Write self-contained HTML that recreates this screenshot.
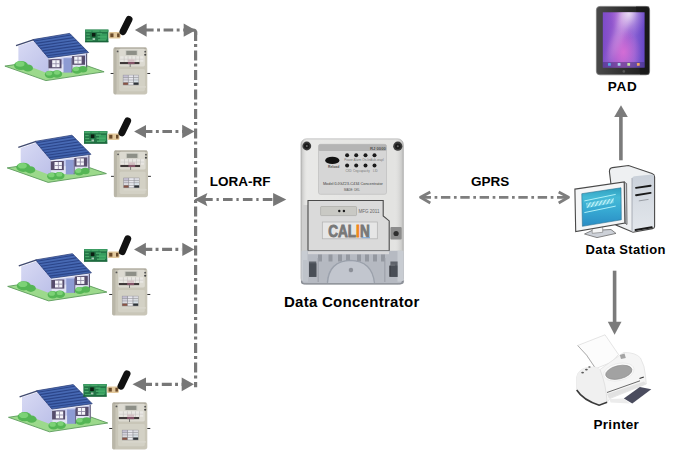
<!DOCTYPE html>
<html><head><meta charset="utf-8">
<style>
html,body{margin:0;padding:0;background:#fff;}
body{width:680px;height:460px;overflow:hidden;position:relative;font-family:"Liberation Sans",sans-serif;}
svg{position:absolute;left:0;top:0;}
.lbl{position:absolute;font-weight:bold;color:#000;white-space:nowrap;line-height:1;}
</style></head><body>
<svg width="680" height="460" viewBox="0 0 680 460">
<defs>
<linearGradient id="sideW" x1="0" y1="0" x2="1" y2="1">
<stop offset="0" stop-color="#d8daf4"/><stop offset="1" stop-color="#bcc0e8"/></linearGradient>
<linearGradient id="roofG" x1="0" y1="0" x2="0" y2="1">
<stop offset="0" stop-color="#4a6cb6"/><stop offset="1" stop-color="#4062ad"/></linearGradient>
<linearGradient id="concShade" x1="0" y1="0" x2="1" y2="0">
<stop offset="0" stop-color="#9a9a9a" stop-opacity="0.5"/><stop offset="0.06" stop-color="#fff" stop-opacity="0.2"/><stop offset="0.9" stop-color="#fff" stop-opacity="0"/><stop offset="1" stop-color="#888" stop-opacity="0.4"/></linearGradient>
<linearGradient id="towerFront" x1="0" y1="0" x2="0" y2="1">
<stop offset="0" stop-color="#c9d0d9"/><stop offset="0.5" stop-color="#d8dde4"/><stop offset="1" stop-color="#e2e6eb"/></linearGradient>
<linearGradient id="screenG" x1="0" y1="0" x2="0" y2="1">
<stop offset="0" stop-color="#2f9fbf"/><stop offset="0.25" stop-color="#45bad6"/><stop offset="0.6" stop-color="#36a8d2"/><stop offset="1" stop-color="#2a8cc4"/></linearGradient>
<pattern id="stripeP" width="3" height="3" patternUnits="userSpaceOnUse" patternTransform="rotate(-60)">
<rect width="3" height="1.5" fill="#c8f2f8"/><rect y="1.5" width="3" height="1.5" fill="#5cc8e0"/></pattern>
<linearGradient id="padG" x1="0" y1="0" x2="1" y2="0">
<stop offset="0" stop-color="#7c4cc8"/><stop offset="0.45" stop-color="#a45ed2"/><stop offset="0.75" stop-color="#8a62d4"/><stop offset="1" stop-color="#6446c6"/></linearGradient>
<filter id="soft" x="-50%" y="-50%" width="200%" height="200%"><feGaussianBlur stdDeviation="2.5"/></filter>
<linearGradient id="streakG" x1="0" y1="0" x2="0" y2="1">
<stop offset="0" stop-color="#f4e8f8" stop-opacity="0.55"/><stop offset="0.5" stop-color="#f0e0f8" stop-opacity="0.25"/><stop offset="1" stop-color="#f0e0f8" stop-opacity="0.08"/></linearGradient>
<radialGradient id="padPink" cx="0.5" cy="0.72" r="0.42">
<stop offset="0" stop-color="#e472d6" stop-opacity="0.75"/><stop offset="1" stop-color="#e070d4" stop-opacity="0"/></radialGradient>
<radialGradient id="padGlow" cx="0.62" cy="0.02" r="0.45">
<stop offset="0" stop-color="#f4ecf8" stop-opacity="0.75"/><stop offset="0.5" stop-color="#e8d0f0" stop-opacity="0.3"/><stop offset="1" stop-color="#c080e0" stop-opacity="0"/></radialGradient>
<linearGradient id="bezelG" x1="0" y1="0" x2="1" y2="0">
<stop offset="0" stop-color="#4a4a4a"/><stop offset="0.5" stop-color="#303030"/><stop offset="1" stop-color="#1c1c1c"/></linearGradient>
<g id="house">
<polygon points="4.9,66.1 45.9,80.6 104.1,71.8 63.1,57.3" fill="#9cd98c" stroke="#5c9c5c" stroke-width="0.9"/>
<polygon points="18.4,46.1 33.9,41 48.9,57.5 48.9,73.7 18.4,62.3" fill="url(#sideW)"/>
<polygon points="48.9,57.5 87,52.5 87,69 48.9,74" fill="#c9cdef"/>
<polygon points="48.9,66 87,61.5 87,69 48.9,74" fill="#e2e4f4"/>
<rect x="48.5" y="59.2" width="13" height="9.1" fill="#564c6c"/>
<rect x="52.2" y="60.2" width="7.4" height="7" fill="#f4f4fa"/>
<rect x="55.6" y="60.2" width="0.8" height="7" fill="#8a84a0"/>
<rect x="52.2" y="63.4" width="7.4" height="0.8" fill="#8a84a0"/>
<rect x="63.5" y="58.2" width="7.8" height="14.4" fill="#8d9bd3"/>
<rect x="72" y="55.6" width="13" height="9.2" fill="#564c6c"/>
<rect x="74.2" y="56.6" width="7.4" height="7" fill="#f4f4fa"/>
<rect x="77.6" y="56.6" width="0.8" height="7" fill="#8a84a0"/>
<rect x="74.2" y="59.8" width="7.4" height="0.8" fill="#8a84a0"/>
<polygon points="48.6,57.6 88,52.3 88,54 48.6,59.6" fill="#eceef8"/>
<line x1="86.6" y1="53.5" x2="86.6" y2="68.5" stroke="#5a5470" stroke-width="1.1"/>
<rect x="71.3" y="58" width="1.2" height="14.5" fill="#6a6a92"/>
<polygon points="32.9,39.6 69.7,33.4 88.6,52.5 48.4,57.9" fill="url(#roofG)" stroke="#2c3f78" stroke-width="0.8"/>
<g stroke="#2b4589" stroke-width="1.1"><line x1="34.1" y1="41.0" x2="71.1" y2="35.0"/><line x1="36.1" y1="43.4" x2="73.6" y2="37.6"/><line x1="38.2" y1="45.9" x2="76.2" y2="40.2"/><line x1="40.3" y1="48.4" x2="78.7" y2="42.8"/><line x1="42.4" y1="50.9" x2="81.3" y2="45.4"/><line x1="44.5" y1="53.4" x2="83.8" y2="48.0"/><line x1="46.6" y1="55.8" x2="86.4" y2="50.6"/></g>
<line x1="16" y1="45.6" x2="33.9" y2="39.6" stroke="#404a70" stroke-width="1.3"/>
<g fill="#55b655">
<ellipse cx="21" cy="65.5" rx="7" ry="4.6"/>
<ellipse cx="28" cy="68" rx="5" ry="3.6"/>
<ellipse cx="50" cy="74.5" rx="5.2" ry="3.8"/>
<ellipse cx="57" cy="74" rx="5.2" ry="3.8"/>
<ellipse cx="77" cy="70.3" rx="5" ry="3.5"/>
<ellipse cx="83" cy="69.2" rx="4.3" ry="3.2"/>
</g>
<g fill="#7cd276">
<ellipse cx="20" cy="64" rx="4.5" ry="2.8"/>
<ellipse cx="49" cy="73.2" rx="3.2" ry="2.3"/>
<ellipse cx="57" cy="72.6" rx="3" ry="2.2"/>
<ellipse cx="76" cy="69" rx="3" ry="2.2"/>
</g>
</g>
<g id="pcb">
<rect x="0" y="0" width="23.3" height="12.6" fill="#237546"/>
<rect x="0" y="0" width="23.3" height="2.2" fill="#3a9a62"/>
<g fill="#4aa86a">
<rect x="1" y="1" width="5" height="1.2"/><rect x="8" y="0.8" width="6" height="1.3"/><rect x="16" y="1" width="6" height="1.2"/>
<rect x="1.2" y="4" width="3.5" height="1.2"/><rect x="1.2" y="7" width="4" height="1.2"/><rect x="1.5" y="10" width="6" height="1.2"/>
<rect x="12" y="3.5" width="5" height="1.4"/><rect x="12.5" y="6.5" width="9" height="1.5"/><rect x="13" y="9.5" width="8" height="1.5"/>
</g>
<rect x="15" y="4" width="7" height="6" fill="#3fae68" opacity="0.7"/>
<rect x="6.8" y="3.4" width="3.6" height="3.6" fill="#0c1e12"/>
<rect x="7.5" y="8.5" width="2.5" height="2" fill="#c8e0d0" opacity="0.8"/>
<rect x="0" y="11.6" width="23.3" height="1" fill="#186038"/>
<rect x="23.5" y="2.5" width="12" height="6.5" rx="1.5" fill="#e2c89c"/>
<rect x="25.2" y="3.8" width="3.2" height="3.8" fill="#6a4a2a"/>
<rect x="32" y="3.8" width="2.5" height="3.8" fill="#6a4a2a"/>
</g>
<g id="meter">
<rect x="0" y="0" width="32.8" height="47.2" rx="2.5" fill="#c9c6b8"/>
<rect x="0" y="0" width="3" height="47.2" rx="1.5" fill="#b9b6a8"/>
<rect x="1" y="0" width="30.8" height="1.3" fill="#a9a599"/>
<rect x="5.5" y="1.3" width="25" height="17.8" rx="1.5" fill="#dcdad1"/>
<rect x="11.5" y="2.7" width="12.2" height="5.4" fill="#cfcfc7"/>
<rect x="12.4" y="3.3" width="10.2" height="4.2" fill="#8d8f87"/>
<rect x="6.5" y="8.8" width="22.5" height="5.6" fill="#e9e7e3"/>
<g fill="#c4c2bf"><rect x="10" y="8.8" width="0.6" height="5.6"/><rect x="13.8" y="8.8" width="0.6" height="5.6"/><rect x="17.6" y="8.8" width="0.6" height="5.6"/><rect x="21.4" y="8.8" width="0.6" height="5.6"/><rect x="25.2" y="8.8" width="0.6" height="5.6"/><rect x="6.5" y="11.4" width="22.5" height="0.5"/></g>
<rect x="14" y="12" width="6.5" height="2.4" fill="#d4c0c4"/>
<rect x="6.2" y="14.6" width="19" height="2.1" fill="#3e3838"/>
<rect x="14" y="14.6" width="6.5" height="2.1" fill="#86566a"/>
<rect x="15.8" y="16.7" width="0.7" height="2.8" fill="#555"/>
<circle cx="4" cy="3.9" r="0.9" fill="#555"/>
<circle cx="30.8" cy="4.2" r="0.9" fill="#555"/>
<circle cx="30.8" cy="7.3" r="1" fill="#444"/>
<rect x="5.5" y="21.5" width="25" height="22.5" rx="1.5" fill="#d3d1c5"/>
<rect x="9.1" y="27.5" width="15.4" height="10.4" fill="#8c8c92"/>
<rect x="9.5" y="27.9" width="4.5" height="2" fill="#c4bfd2"/>
<rect x="14.6" y="27.9" width="4.5" height="2" fill="#e6e6ec"/>
<rect x="19.7" y="27.9" width="4.5" height="2" fill="#dcdce2"/>
<rect x="9.5" y="30.4" width="4.5" height="2" fill="#d4d2dc"/>
<rect x="14.6" y="30.4" width="4.5" height="2" fill="#e8e8ee"/>
<rect x="19.7" y="30.4" width="4.5" height="2" fill="#dadee2"/>
<rect x="9.5" y="32.9" width="4.5" height="2" fill="#dcdce0"/>
<rect x="14.6" y="32.9" width="4.5" height="2" fill="#e4e6ea"/>
<rect x="19.7" y="32.9" width="4.5" height="2" fill="#d8e2e8"/>
<rect x="9.5" y="35.4" width="4.5" height="2" fill="#8a5444"/>
<rect x="14.6" y="35.4" width="4.5" height="2" fill="#ececee"/>
<rect x="19.7" y="35.4" width="4.5" height="2" fill="#2e3438"/>
<rect x="9.4" y="38.8" width="22" height="1.6" fill="#d8d6cc"/>
<rect x="-2.8" y="25.6" width="2.8" height="1" fill="#333"/>
<rect x="32.8" y="25.6" width="2.8" height="1" fill="#333"/>
</g>
</defs>

<!-- houses -->
<use href="#house"/>
<use href="#house" transform="translate(2.3,101.8)"/>
<use href="#house" transform="translate(2.8,220.3)"/>
<use href="#house" transform="translate(3.6,351.2)"/>

<!-- pcbs -->
<use href="#pcb" transform="translate(85.1,29.6)"/>
<use href="#pcb" transform="translate(84,131)"/>
<use href="#pcb" transform="translate(84,249)"/>
<use href="#pcb" transform="translate(83.4,384)"/>
<!-- antennas -->
<g stroke="#111" stroke-width="7" stroke-linecap="round">
<line x1="123" y1="31.5" x2="129" y2="19.5"/>
<line x1="121.9" y1="132.8" x2="127.6" y2="121"/>
<line x1="122.3" y1="251.6" x2="127.7" y2="238.8"/>
<line x1="121" y1="386.2" x2="127" y2="373.8"/>
</g>
<!-- meters -->
<use href="#meter" transform="translate(113.5,47.5) scale(1.03,0.995)"/>
<use href="#meter" transform="translate(113.9,150.5) scale(1.04,0.99)"/>
<use href="#meter" transform="translate(112.2,268.5) scale(1.07,0.995)"/>
<use href="#meter" transform="translate(112.2,402.5) scale(1.07,0.995)"/>

<!-- LORA dash-dot lines -->
<g stroke="#777" stroke-width="3.2" fill="none">
<line x1="195.6" y1="31" x2="195.6" y2="387.3" stroke-dasharray="10 3 3 3.5"/>
<path d="M189,30 H193 Q195.6,30 195.6,32.6 V35" stroke-dasharray="none"/>
<line x1="144" y1="30" x2="184" y2="30" stroke-dasharray="9.6 3.5 2.9 3.6"/>
<line x1="142.8" y1="131.5" x2="183" y2="131.5" stroke-dasharray="9.6 3.5 2.9 3.6"/>
<line x1="142.3" y1="249.4" x2="182" y2="249.4" stroke-dasharray="10 3.3 2.9 3.6"/>
<line x1="142" y1="384.3" x2="182" y2="384.3" stroke-dasharray="10 3.3 2.9 3.6"/>
<line x1="203.1" y1="199.5" x2="274" y2="199.5" stroke-dasharray="9.6 3.8 2.3 4.2"/>
</g>
<g fill="#777">
<polygon points="134.9,30 146.6,23.5 146.6,36.8"/>
<polygon points="183.7,23.5 195.6,30.2 183.7,36.8"/>
<polygon points="134.1,131.5 146,125.1 146,138.1"/>
<polygon points="182.2,124.8 194.6,131.5 182.2,138.3"/>
<polygon points="134,249.4 145.9,242.8 145.9,256"/>
<polygon points="182.3,242.8 194.3,249.4 182.3,256"/>
<polygon points="132.5,384.3 146,377.4 146,391.3"/>
<polygon points="181.7,377.4 193.9,384.3 181.7,391.3"/>
<polygon points="194.4,199.5 207.4,193.1 205,199.5 207.4,206.3"/>
<polygon points="273.1,193.1 286.3,199.5 273.1,206.3"/>
</g>

<!-- concentrator -->
<g id="conc">
<rect x="301" y="138.9" width="102.3" height="144.8" rx="5.5" fill="#e3e3e1" stroke="#a8a8a8" stroke-width="0.7"/>
<rect x="301" y="138.9" width="102.3" height="144.8" rx="5.5" fill="url(#concShade)"/>
<circle cx="306.8" cy="146" r="4.4" fill="#3a3a3a"/>
<circle cx="306.8" cy="146" r="2.8" fill="#1a1a1a"/>
<circle cx="306.8" cy="146" r="1" fill="#666"/>
<circle cx="397.8" cy="146.2" r="4.6" fill="#3a3a3a"/>
<circle cx="397.8" cy="146.2" r="2.8" fill="#1a1a1a"/>
<circle cx="397.8" cy="146.2" r="1" fill="#666"/>
<rect x="318.5" y="144.3" width="68" height="50" rx="2" fill="#d6d6d6" stroke="#c2c2c2" stroke-width="0.8"/>
<rect x="318.5" y="144.3" width="68" height="6.8" rx="1.5" fill="#b4b4b4"/>
<text x="370" y="149.6" font-family="Liberation Sans" font-weight="bold" font-size="4.2" fill="#555">RJ 0000</text>
<ellipse cx="332.3" cy="160.4" rx="7.1" ry="3.7" fill="#111"/>
<text x="328" y="168.3" font-family="Liberation Sans" font-weight="bold" font-size="3.4" fill="#555">Reload</text>
<g fill="#1a1a1a">
<circle cx="347.1" cy="155.3" r="2"/><circle cx="356.2" cy="155.3" r="2"/><circle cx="365.5" cy="155.3" r="2"/><circle cx="374.5" cy="155.3" r="2"/>
<circle cx="347.1" cy="165.4" r="2"/><circle cx="356.2" cy="165.4" r="2"/><circle cx="365.5" cy="165.4" r="2"/><circle cx="374.5" cy="165.4" r="2"/>
</g>
<g font-family="Liberation Sans" font-size="3" fill="#777">
<text x="344.3" y="161.3">Power</text><text x="353.5" y="161.3">Alarm</text><text x="362.3" y="161.3">On-line</text><text x="370.6" y="161.3">Sub-orapl</text>
<text x="345.4" y="171.5">CXD</text><text x="353" y="171.5">Cng</text><text x="358.7" y="171.5">capacity</text><text x="373" y="171.5">LID</text>
</g>
<text x="322.9" y="184.7" font-family="Liberation Sans" font-size="4.4" fill="#444" textLength="60" lengthAdjust="spacingAndGlyphs">Model:DJGZ23-C434 Concentrator</text>
<text x="344" y="191.3" font-family="Liberation Sans" font-size="3.8" fill="#555" textLength="16" lengthAdjust="spacingAndGlyphs">MADE: DKL</text>
<!-- terminal cover upper -->
<rect x="302" y="205" width="6.5" height="46" fill="#cfcfcf"/>
<path d="M308,200.5 H383.2 V216 L389.2,220.9 V250.7 H308 Z" fill="#dadada" stroke="#4a4a4a" stroke-width="1.1"/>
<rect x="320.6" y="206.5" width="35.9" height="9.1" rx="0.8" fill="#c9c9c4" stroke="#a5a5a0" stroke-width="0.6"/>
<circle cx="339.3" cy="211" r="1.2" fill="#1e1e1e"/><circle cx="343.9" cy="211" r="1.2" fill="#1e1e1e"/>
<text x="358.5" y="213.4" font-family="Liberation Sans" font-size="5.2" fill="#666" textLength="21" lengthAdjust="spacingAndGlyphs">MFG 2011</text>
<rect x="322.3" y="222" width="55" height="16.8" fill="#e6e6e6" stroke="#b0b0b0" stroke-width="0.7"/>
<text x="328.2" y="236.8" font-family="Liberation Sans" font-weight="bold" font-size="17" fill="#787878" stroke="#787878" stroke-width="0.9" textLength="41.5" lengthAdjust="spacingAndGlyphs">CAL<tspan fill="#f0861e" stroke="#f0861e">I</tspan>N</text>
<rect x="362" y="237" width="8" height="1.2" fill="#6aa0d8" opacity="0.7"/>
<rect x="390.4" y="227" width="11.3" height="12.6" rx="1" fill="#8c8c8c"/>
<circle cx="396.1" cy="233.5" r="2.6" fill="#2e2e2e"/>
<!-- transparent bottom -->
<rect x="301.5" y="250.7" width="102" height="33" rx="3" fill="#b6bac2"/>
<rect x="301.5" y="250.7" width="6" height="31" fill="#c8ccd2"/>
<rect x="397.5" y="250.7" width="6" height="31" fill="#c8ccd2"/>
<rect x="308" y="251.4" width="81" height="2.8" fill="#d8d8da"/>
<g fill="#7e828a" opacity="0.6">
<rect x="318" y="254.5" width="4" height="7"/><rect x="328.5" y="254.5" width="4" height="7"/><rect x="338" y="254.5" width="4" height="7"/><rect x="346" y="254.5" width="4" height="7"/><rect x="357" y="254.5" width="4" height="7"/><rect x="365" y="254.5" width="4" height="7"/><rect x="373" y="254.5" width="4" height="7"/><rect x="381" y="254.5" width="4" height="7"/>
</g>
<rect x="309.1" y="263.3" width="7.2" height="13.5" fill="#34373c"/>
<rect x="389.3" y="265.6" width="8" height="11.2" fill="#34373c"/>
<rect x="391" y="263.8" width="4" height="2.2" fill="#f0f0f0"/>
<rect x="317.5" y="258" width="1.5" height="24" fill="#9a9ea6" opacity="0.7"/>
<rect x="384" y="258" width="1.5" height="24" fill="#9a9ea6" opacity="0.7"/>
<path d="M327.4,282.3 Q328.5,261.2 350.4,260.9 Q372.5,261.2 373.4,282.3" fill="#aeb3bd" stroke="#98a0b0" stroke-width="1.3"/>
<circle cx="350.4" cy="270.4" r="2.3" fill="#44484e"/>
<circle cx="350.4" cy="270.4" r="1" fill="#9a9ea6"/>
<path d="M301.5,280.5 Q301.5,283.7 304.5,283.7 H400.5 Q403.5,283.7 403.5,280.5" fill="none" stroke="#9a9ea4" stroke-width="1.3"/>
</g>
<rect x="309" y="261.5" width="7.3" height="15.5" fill="#4e525a" opacity="0.85"/>
<rect x="390.4" y="261.5" width="7.2" height="15.5" fill="#4e525a" opacity="0.85"/>
<rect x="303" y="260" width="4" height="22" fill="#b8bcc4" opacity="0.6"/>
<rect x="320" y="262" width="62" height="18" fill="#b4b8c0" opacity="0.5"/>
<path d="M327.5,283 Q329,261 350.5,260.4 Q372,261 374.5,283" fill="#c4c8d0" stroke="#9aa0aa" stroke-width="1.3" opacity="0.9"/>
<circle cx="351" cy="270" r="2.2" fill="#6a6e76" opacity="0.6"/>
<path d="M301.5,281 Q301.5,284 304.5,284 H399.5 Q402.5,284 402.5,281" fill="none" stroke="#8a8e96" stroke-width="1.2"/>
</g>

<!-- GPRS arrow -->
<g stroke="#7e7e7e" stroke-width="2.8" fill="none">
<line x1="421.6" y1="197.4" x2="568" y2="197.4" stroke-dasharray="9.4 3.6 2.7 3.65"/>
<polyline points="430.3,192 420.5,197.3 430.3,203" stroke-linejoin="round"/>
<polyline points="558.7,192 568.5,197.3 558.7,203" stroke-linejoin="round"/>
</g>

<!-- PC tower -->
<path d="M609.4,171.5 Q609.4,168 612.5,167.6 L628.5,165.5 L652,173.5 Q654.6,174.6 654.6,177 L654.6,226.5 Q654.6,228.3 652.5,228.6 L633,232.3 L616,225 Z" fill="#eef0f2" stroke="#4a4a4a" stroke-width="1.1"/>
<path d="M632,179 Q632,176.5 634.5,176.3 L652,174.6 Q654,174.5 654,177 L654,227 L632,231.5 Z" fill="url(#towerFront)"/>
<line x1="632" y1="178" x2="632" y2="231.8" stroke="#9aa0a8" stroke-width="0.8"/>
<g stroke="#1a1a1a" stroke-width="1.9" stroke-linecap="round">
<line x1="636" y1="187.9" x2="650.6" y2="185.7"/>
<line x1="636" y1="195.2" x2="650.6" y2="192.9"/>
<line x1="635.5" y1="230" x2="651.8" y2="227.3"/>
</g>
<line x1="638.8" y1="200.9" x2="648.5" y2="199.4" stroke="#8a8e96" stroke-width="0.8"/>
<!-- monitor -->
<polygon points="624.2,182 626.6,183.5 627,224.5 624.9,223.1" fill="#c9ccd2" stroke="#555" stroke-width="0.8"/>
<polygon points="584.5,234 592,230.5 611,229.5 616,233.4 597,237.6" fill="#cdd1d8" stroke="#6a6a6a" stroke-width="0.8"/>
<polygon points="592.2,227.5 602.7,226.2 602.7,232.3 592.2,233.3" fill="#f4f5f6" stroke="#777" stroke-width="0.6"/>
<polygon points="574.9,189.1 624.2,182 624.9,223.1 575.7,231.6" fill="#f5f6f7" stroke="#4a4a4a" stroke-width="1.1"/>
<polygon points="581.8,193.7 621,187.8 621.3,219.8 582.4,226.3" fill="url(#screenG)" stroke="#2a7090" stroke-width="0.6"/>
<g stroke="#aef0f8" stroke-width="1">
<line x1="584.4" y1="200.9" x2="615.7" y2="194.4"/>
<line x1="584.4" y1="212.6" x2="615.7" y2="206.1"/>
</g>
<polygon points="586.4,203 613.8,198.3 613.8,203 586.4,208" fill="url(#stripeP)"/>
<circle cx="602" cy="227.5" r="0.7" fill="#888"/>

<!-- iPad -->
<rect x="596.4" y="6.4" width="53.2" height="68.4" rx="3.5" fill="url(#bezelG)" stroke="#7a7a7a" stroke-width="0.8"/>
<polygon points="636,6.6 649.2,6.6 649.2,74.5 640,74.5" fill="#151515" opacity="0.6"/>
<rect x="602.8" y="12.3" width="41.8" height="55.3" fill="url(#padG)"/>
<rect x="602.8" y="12.3" width="41.8" height="55.3" fill="url(#padPink)"/>
<clipPath id="padClip"><rect x="602.8" y="12.3" width="41.8" height="55.3"/></clipPath>
<g clip-path="url(#padClip)"><polygon points="622,8 636,8 612,64 604,64" fill="url(#streakG)" filter="url(#soft)"/></g>
<rect x="602.8" y="12.3" width="41.8" height="55.3" fill="url(#padGlow)"/>
<rect x="602.8" y="62" width="41.8" height="5.6" fill="#3a2c6a" opacity="0.45"/>
<rect x="608" y="63" width="2.8" height="2.8" rx="0.6" fill="#58a8e8"/>
<rect x="617.7" y="63" width="2.8" height="2.8" rx="0.6" fill="#a8d0f0"/>
<rect x="627.3" y="63" width="2.8" height="2.8" rx="0.6" fill="#c8e0a0"/>
<rect x="636.9" y="63" width="2.8" height="2.8" rx="0.6" fill="#f0a860"/>
<circle cx="623.8" cy="71.4" r="1.3" fill="#555"/>

<!-- printer -->
<g id="printer">
<!-- paper -->
<path d="M577.7,345.5 L605,334.8 L618.5,354.5 L612,362 L596,368.5 Q587,354 577.7,345.5 Z" fill="#fcfcfc" stroke="#d4d4d4" stroke-width="0.6"/>
<path d="M577.7,345.5 Q587,354 594.5,367" fill="none" stroke="#a0a0a0" stroke-width="0.8"/>
<!-- body -->
<path d="M576.7,377 Q578,370 586,367.8 L594.5,367 L600,369.5 L623.7,352.4 Q636,352.5 640.5,358 Q645,366 645.5,376 L646.3,384 L610,398.5 L607.1,402.3 L599.2,405.2 Q583,400 576.7,390 Z" fill="#f5f5f5" stroke="#dadada" stroke-width="0.6"/>
<path d="M576.7,377 Q578,370 586,367.8 L594.5,367 L600,369.5 Q606,384 607.1,402.3 L599.2,405.2 Q583,400 576.7,390 Z" fill="#f0f0f0"/>
<path d="M600,369.5 Q606,384 607.1,402.3" fill="none" stroke="#dcdcdc" stroke-width="0.8"/>
<path d="M576.7,390 Q583,400 599.2,405.2 L607.1,402.3" fill="none" stroke="#3a3a3a" stroke-width="1.6"/>
<polygon points="619.8,355 624.5,353.6 625.8,358 621,359" fill="#a4a4a4"/>
<ellipse cx="618.8" cy="372" rx="15.5" ry="8.6" transform="rotate(-13 618.8 372)" fill="#fbfbfb" stroke="#e2e2e2" stroke-width="0.5"/>
<ellipse cx="618.8" cy="372.3" rx="13.4" ry="6.6" transform="rotate(-13 618.8 372.3)" fill="#a2a2a2" stroke="#8a8a8a" stroke-width="0.6"/>
<line x1="607" y1="392.5" x2="640" y2="380.8" stroke="#6a6a6a" stroke-width="1"/>
<polygon points="607,394 644,381.5 646.3,384 609,398.6" fill="#e2e2e2"/>
<line x1="639.5" y1="378.6" x2="643.8" y2="377.1" stroke="#333" stroke-width="1.1"/>
<polygon points="623.8,398.6 639.8,387 651.3,389.2 632.3,403.5" fill="#4a4c5e"/>
<polygon points="609.5,399 623.8,398.6 630,403.5 610.5,402.5" fill="#ececec"/>
<g fill="#5a5a5a">
<ellipse cx="582.6" cy="372.6" rx="1.4" ry="0.9"/>
<ellipse cx="586.4" cy="369.6" rx="1.4" ry="0.9"/>
<ellipse cx="589.4" cy="367" rx="1.2" ry="0.8"/>
</g>
</g>

<!-- up arrow to PAD -->
<rect x="619.1" y="116" width="3.6" height="44.3" fill="#7b7b7b"/>
<polygon points="621,105.2 627.8,117 614.2,117" fill="#7b7b7b"/>
<!-- down arrow to printer -->
<rect x="612.8" y="270.7" width="3.6" height="52" fill="#7b7b7b"/>
<polygon points="607.8,321.7 621.5,321.7 614.6,334.8" fill="#7b7b7b"/>
</svg>

<div class="lbl" style="left:209.7px;top:175.2px;font-size:13.5px;">LORA-RF</div>
<div class="lbl" style="left:471px;top:175.1px;font-size:13.5px;">GPRS</div>
<div class="lbl" style="left:283.9px;top:293.8px;font-size:15px;letter-spacing:0.28px;">Data Concentrator</div>
<div class="lbl" style="left:585.6px;top:243.3px;font-size:13px;letter-spacing:0.37px;">Data Station</div>
<div class="lbl" style="left:607.7px;top:80.1px;font-size:13.5px;letter-spacing:0.8px;">PAD</div>
<div class="lbl" style="left:593.6px;top:417.9px;font-size:13.5px;letter-spacing:0.26px;">Printer</div>
</body></html>
